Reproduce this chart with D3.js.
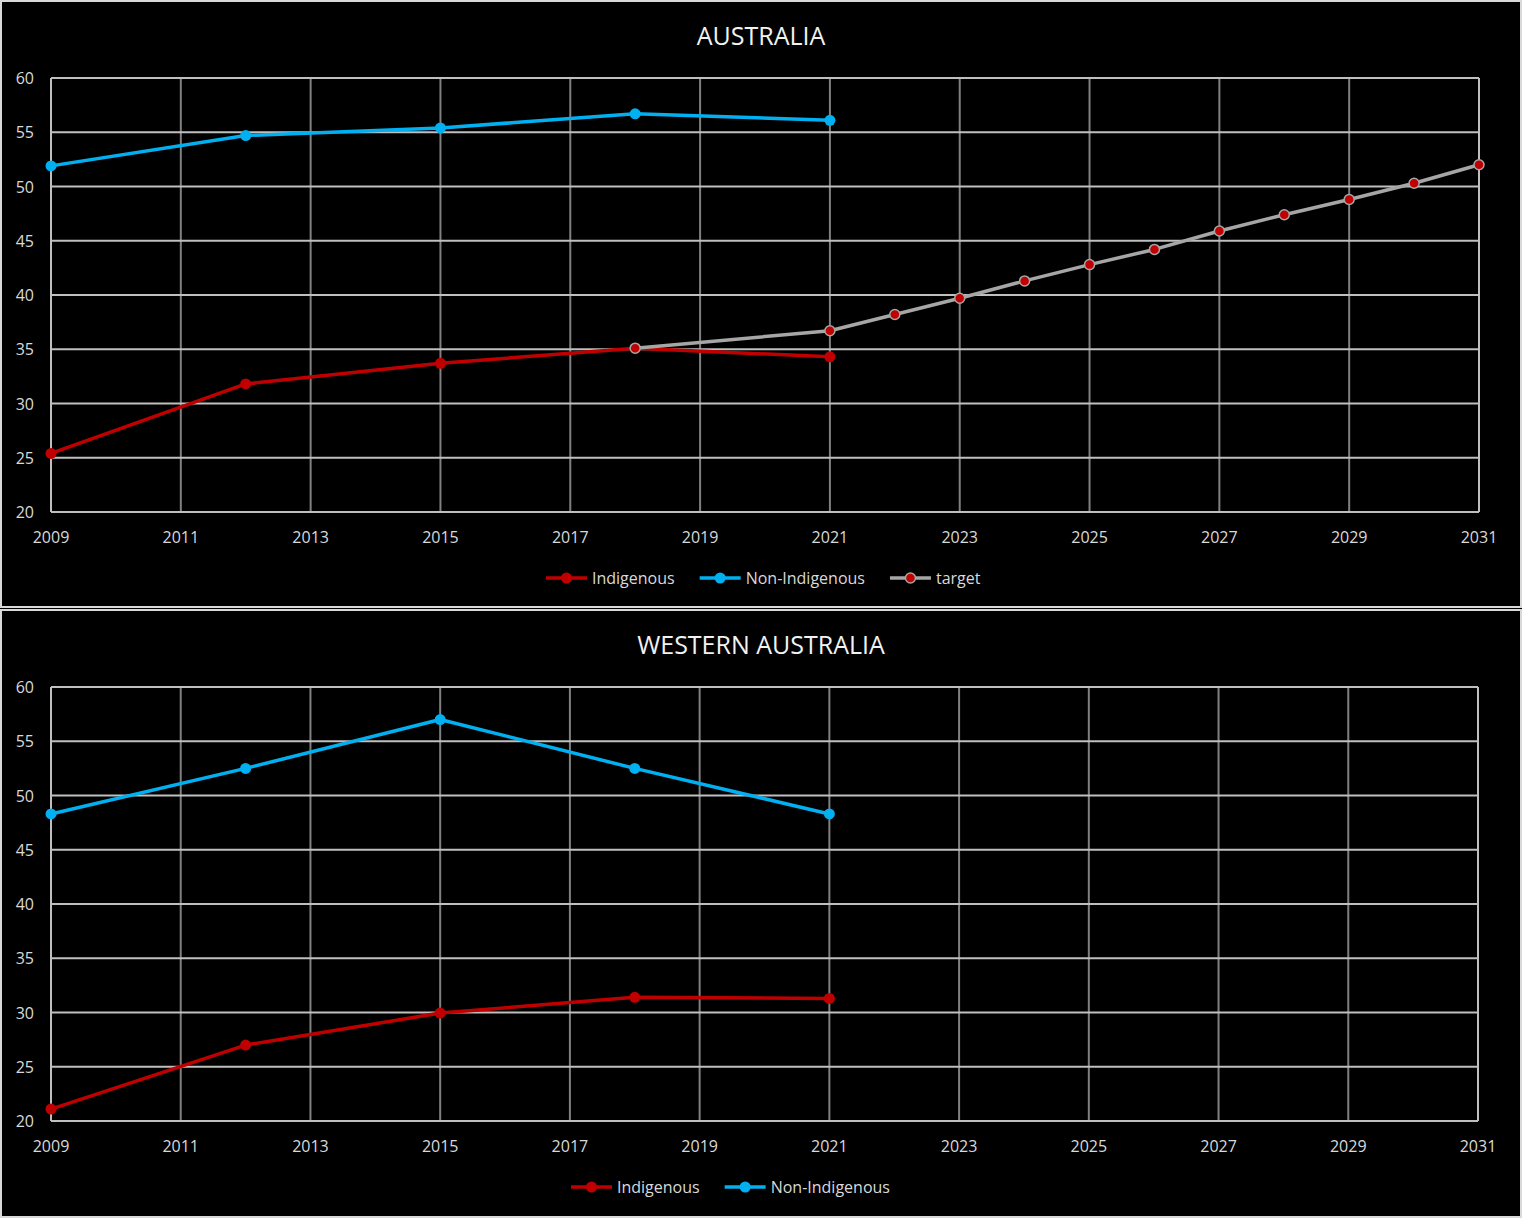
<!DOCTYPE html>
<html>
<head>
<meta charset="utf-8">
<script src="https://cdn.jsdelivr.net/npm/d3@7"></script>
<style>
  body { margin: 0; background: #000; }
  svg { display: block; }
  text { font-family: "Open Sans", "Noto Sans", sans-serif; }
</style>
</head>
<body>
<div id="chart"></div>
<script>
const width = 1522;
const height = 1218;

// data
const years = [2009, 2012, 2015, 2018, 2021];
const ausIndigenous = [25.4, 31.8, 33.7, 35.1, 34.3];
const ausNonIndigenous = [51.9, 54.7, 55.4, 56.7, 56.1];
const targetYears = [2018, 2021, 2022, 2023, 2024, 2025, 2026, 2027, 2028, 2029, 2030, 2031];
const ausTarget = [35.1, 36.7, 38.2, 39.7, 41.3, 42.8, 44.2, 45.9, 47.4, 48.8, 50.3, 52.0];
const waIndigenous = [21.1, 27.0, 29.95, 31.4, 31.3];
const waNonIndigenous = [48.3, 52.5, 57.0, 52.5, 48.3];
const xTicks = [2009, 2011, 2013, 2015, 2017, 2019, 2021, 2023, 2025, 2027, 2029, 2031];
const yTicks = [20, 25, 30, 35, 40, 45, 50, 55, 60];

const red = "#c00000", blue = "#00b0f0", grey = "#a6a6a6";

const svg = d3.select("#chart").append("svg")
    .attr("width", width)
    .attr("height", height);

svg.append("rect").attr("width", width).attr("height", height).attr("fill", "#000");

function panel(top, h, title, series, legendStart, right) {
    const g = svg.append("g").attr("transform", `translate(0,${top})`);

    g.append("rect")
        .attr("x", 1).attr("y", 1)
        .attr("width", width - 2).attr("height", h - 2)
        .attr("fill", "#000")
        .attr("stroke", "#d9d9d9")
        .attr("stroke-width", 2);

    const x = d3.scaleLinear().domain([2009, 2031]).range([51, right]);
    const y = d3.scaleLinear().domain([20, 60]).range([512, 78]);

    g.append("text")
        .attr("x", 761).attr("y", 45)
        .attr("text-anchor", "middle")
        .attr("fill", "#f2f2f2")
        .style("font-size", "25px")
        .text(title);

    // vertical gridlines (darker)
    g.append("g").selectAll("line")
        .data(xTicks.slice(1, -1))
        .enter().append("line")
        .attr("x1", d => x(d)).attr("x2", d => x(d))
        .attr("y1", y(60)).attr("y2", y(20))
        .attr("stroke", "#808080").attr("stroke-width", 2);

    // horizontal gridlines (lighter)
    g.append("g").selectAll("line")
        .data(yTicks)
        .enter().append("line")
        .attr("x1", x(2009)).attr("x2", x(2031))
        .attr("y1", d => y(d)).attr("y2", d => y(d))
        .attr("stroke", "#bfbfbf").attr("stroke-width", 2);

    g.append("line")
        .attr("x1", x(2009)).attr("x2", x(2009))
        .attr("y1", y(60)).attr("y2", y(20))
        .attr("stroke", "#bfbfbf").attr("stroke-width", 2);
    g.append("line")
        .attr("x1", x(2031)).attr("x2", x(2031))
        .attr("y1", y(60)).attr("y2", y(20))
        .attr("stroke", "#bfbfbf").attr("stroke-width", 2);

    g.append("g").selectAll("text")
        .data(yTicks)
        .enter().append("text")
        .attr("x", 34).attr("y", d => y(d) + 6)
        .attr("text-anchor", "end")
        .attr("fill", "#d9d9d9")
        .style("font-size", "16px")
        .text(d => d);

    g.append("g").selectAll("text")
        .data(xTicks)
        .enter().append("text")
        .attr("x", d => x(d)).attr("y", 543)
        .attr("text-anchor", "middle")
        .attr("fill", "#d9d9d9")
        .style("font-size", "16px")
        .text(d => d);

    const line = d3.line().x(d => x(d[0])).y(d => y(d[1]));

    series.forEach(s => {
        const pts = s.xs.map((yr, i) => [yr, s.values[i]]);
        g.append("path")
            .datum(pts)
            .attr("d", line)
            .attr("fill", "none")
            .attr("stroke", s.color)
            .attr("stroke-width", 3.5)
            .attr("stroke-linejoin", "round");
        g.append("g").selectAll("circle")
            .data(pts)
            .enter().append("circle")
            .attr("cx", d => x(d[0])).attr("cy", d => y(d[1]))
            .attr("r", s.ring ? 5 : 5.5)
            .attr("fill", s.fill)
            .attr("stroke", s.ring ? s.color : "none")
            .attr("stroke-width", 1.5);
    });

    // legend
    const lg = g.append("g");
    let lx = legendStart;
    series.forEach(s => {
        lg.append("line")
            .attr("x1", lx).attr("x2", lx + 41)
            .attr("y1", 578).attr("y2", 578)
            .attr("stroke", s.color).attr("stroke-width", 3.5);
        lg.append("circle")
            .attr("cx", lx + 20.5).attr("cy", 578)
            .attr("r", s.ring ? 5 : 5.5)
            .attr("fill", s.fill)
            .attr("stroke", s.ring ? s.color : "none")
            .attr("stroke-width", 1.5);
        const t = lg.append("text")
            .attr("x", lx + 46).attr("y", 584)
            .attr("fill", "#d9d9d9")
            .style("font-size", "16px")
            .text(s.name);
        lx += 46 + t.node().getComputedTextLength() + 25;
    });
}

panel(0, 608, "AUSTRALIA", [
    { name: "Indigenous", xs: years, values: ausIndigenous, color: red, fill: red },
    { name: "Non-Indigenous", xs: years, values: ausNonIndigenous, color: blue, fill: blue },
    { name: "target", xs: targetYears, values: ausTarget, color: grey, fill: red, ring: true }
], 546, 1479);

panel(609, 609, "WESTERN AUSTRALIA", [
    { name: "Indigenous", xs: years, values: waIndigenous, color: red, fill: red },
    { name: "Non-Indigenous", xs: years, values: waNonIndigenous, color: blue, fill: blue }
], 571, 1478);
</script>
</body>
</html>
